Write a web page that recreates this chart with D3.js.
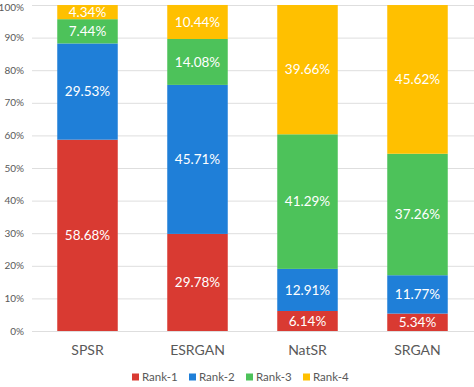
<!DOCTYPE html>
<html>
<head>
<meta charset="utf-8">
<script src="https://cdn.jsdelivr.net/npm/d3@7"></script>
<style>
body { margin: 0; background: #fff; }
text { font-family: Lato, "Open Sans", sans-serif; }
</style>
</head>
<body>
<div id="chart"></div>
<script>
var chart_width  = 474;
var chart_height = 387;

// Data
var methods = ['SPSR', 'ESRGAN', 'NatSR', 'SRGAN'];
var ranks   = ['Rank-1', 'Rank-2', 'Rank-3', 'Rank-4'];
var rank1 = [58.68, 29.78, 6.14, 5.34];
var rank2 = [29.53, 45.71, 12.91, 11.77];
var rank3 = [7.44, 14.08, 41.29, 37.26];
var rank4 = [4.34, 10.44, 39.66, 45.62];
var y_ticks = [0, 10, 20, 30, 40, 50, 60, 70, 80, 90, 100];
var colors = ['#d93a32', '#1f7fd8', '#4dc25a', '#ffc000'];

var series_values = [rank1, rank2, rank3, rank4];
var table = methods.map(function(m, i){
    var row = {method: m};
    ranks.forEach(function(r, j){ row[r] = series_values[j][i]; });
    return row;
});
var stacked = d3.stack().keys(ranks)(table);

var x = d3.scaleBand().domain(methods).range([32.5, 472.5]).paddingInner(0.45).paddingOuter(0.225);
var y = d3.scaleLinear().domain([0, 100]).range([331, 5]);

var svg = d3.select('#chart').append('svg')
    .attr('width', chart_width)
    .attr('height', chart_height);

// gridlines
svg.selectAll('line.grid')
    .data(y_ticks)
    .enter()
    .append('line')
    .attr('x1', 32).attr('x2', 474)
    .attr('y1', function(d){ return y(d) + 0.5; })
    .attr('y2', function(d){ return y(d) + 0.5; })
    .attr('stroke', '#dedede')
    .attr('stroke-width', 1);

// y tick labels
svg.selectAll('text.ytick')
    .data(y_ticks)
    .enter()
    .append('text')
    .attr('x', 24)
    .attr('y', function(d){ return d === 100 ? y(d) + 2 : y(d); })
    .attr('dy', '0.35em')
    .attr('text-anchor', 'end')
    .attr('font-size', 10)
    .attr('fill', '#595959')
    .text(function(d){ return d + '%'; });

var groups = svg.selectAll('g.series')
    .data(stacked)
    .enter()
    .append('g')
    .attr('fill', function(d, i){ return colors[i]; });

groups.selectAll('rect')
    .data(function(d){ return d; })
    .enter()
    .append('rect')
    .attr('x', function(d){ return x(d.data.method); })
    .attr('width', x.bandwidth())
    .attr('y', function(d){ return y(d[1]); })
    .attr('height', function(d){ return y(d[0]) - y(d[1]); });

groups.selectAll('text')
    .data(function(d){ return d; })
    .enter()
    .append('text')
    .attr('x', function(d){ return x(d.data.method) + x.bandwidth()/2; })
    .attr('y', function(d){ return (y(d[0]) + y(d[1]))/2; })
    .attr('dy', '0.35em')
    .attr('text-anchor', 'middle')
    .attr('font-size', 13.5)
    .attr('fill', '#fff')
    .text(function(d){ return (d[1] - d[0]).toFixed(2) + '%'; });

// category labels
svg.selectAll('text.cat')
    .data(methods)
    .enter()
    .append('text')
    .attr('x', function(d){ return x(d) + x.bandwidth()/2; })
    .attr('y', 355)
    .attr('text-anchor', 'middle')
    .attr('font-size', 14)
    .attr('fill', '#595959')
    .text(function(d){ return d; });

// legend
var legend_x = [132, 189, 246, 303];
var legend = svg.selectAll('g.legend')
    .data(ranks)
    .enter()
    .append('g')
    .attr('transform', function(d, i){ return 'translate(' + legend_x[i] + ',377)'; });

legend.append('rect')
    .attr('x', 0).attr('y', -3.5)
    .attr('width', 7).attr('height', 7)
    .attr('fill', function(d, i){ return colors[i]; });

legend.append('text')
    .attr('x', 10)
    .attr('y', 0)
    .attr('dy', '0.35em')
    .attr('font-size', 11.5)
    .attr('fill', '#595959')
    .text(function(d){ return d; });
</script>
</body>
</html>
